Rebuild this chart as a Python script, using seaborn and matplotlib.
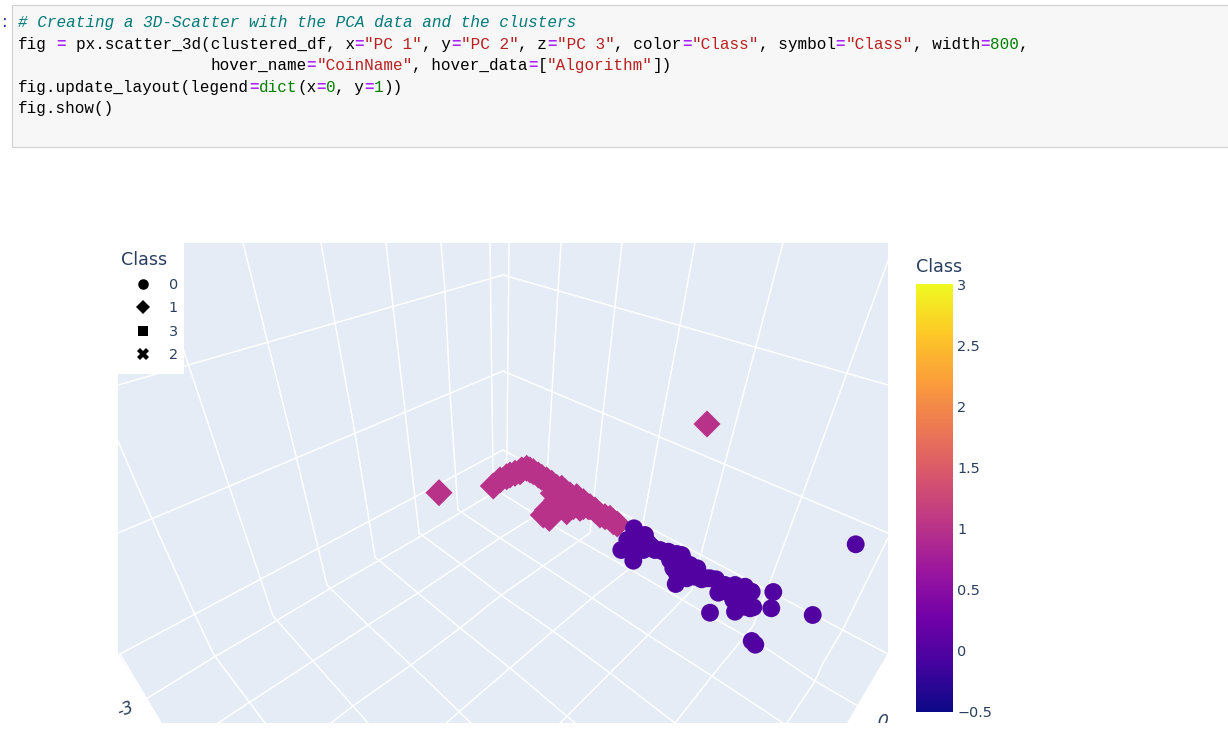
import re
import numpy as np
import pandas as pd
import matplotlib.pyplot as plt
from matplotlib.cm import ScalarMappable
from matplotlib.colors import LinearSegmentedColormap, Normalize
from matplotlib.lines import Line2D
from matplotlib.patches import Polygon, Rectangle
import seaborn as sns

## Values (projected scene position, in picture pixels)
class0_x = [634, 645, 627.3, 621.3, 633.3, 636.7, 643.3, 655, 663.3, 676.7, 683.3, 673.3, 675.7,
            685, 697.3, 690, 701.7, 716, 710, 718.3, 725, 735, 745, 751.7, 735, 736.7, 750,
            753.3, 745, 726.7, 741.7, 743.3, 855.7, 812.7, 773.3, 771.3, 710, 751.7, 755.3,
            640, 630, 648.3, 670, 678.3, 676.7, 686.7, 695, 706.7, 721.7, 730, 736.7, 746.7,
            733.3, 741.7, 651.7, 660, 668.3, 681.7, 690]
class0_y = [528.3, 535, 540, 550, 560.7, 546.7, 550, 550, 551.7, 554, 560, 568.3, 584,
            571.7, 568.3, 575, 579.3, 579.3, 578.3, 592.7, 585, 585, 586.7, 591.7, 611.7, 603.3, 608.3,
            607.3, 600, 591.7, 593.3, 606.7, 544.3, 615, 592, 608.3, 612.7, 641, 644.7,
            541.7, 548.3, 543.3, 560, 563.3, 573.3, 578.3, 576.7, 578.3, 585, 591.7, 593.3, 595,
            600, 603.3, 546.7, 550, 551.7, 555, 565]
class1_x = [493.3, 500, 506.7, 515, 521.7, 526.7, 533.3, 541.7, 546.7, 556.7, 561.7, 570, 576.7,
            588.3, 600, 610, 617.3, 547.3, 549.3, 566.7, 580, 560, 566.7, 590, 439, 707,
            510, 520, 530, 538.3, 551.7, 565, 583.3, 595, 605, 613.3, 556.7, 573.3, 583.3,
            556.7, 576.7, 553.3, 566.7, 543.3]
class1_y = [486, 480, 476.7, 473.3, 470, 468.3, 471.7, 477.3, 480, 487.3, 488.3, 495, 496.7,
            506.7, 515, 518.3, 524, 510, 518.3, 511.7, 508.3, 503.3, 500, 506.7, 492.7, 424,
            475, 471.7, 470, 475, 483.3, 491.7, 501.7, 510, 516.7, 521.7, 500, 506.7, 506.7,
            510, 503.3, 493.3, 506.7, 515]

legend_classes = ["0", "1", "3", "2"]
colorbar_ticks = [-0.5, 0, 0.5, 1, 1.5, 2, 2.5, 3]
colorbar_labels = ["\u22120.5", "0", "0.5", "1", "1.5", "2", "2.5", "3"]
plasma = ["#0d0887", "#46039f", "#7201a8", "#9c179e", "#bd3786",
          "#d8576b", "#ed7953", "#fb9f3a", "#fdca26", "#f0f921"]

code_lines = [
    '# Creating a 3D-Scatter with the PCA data and the clusters',
    'fig = px.scatter_3d(clustered_df, x="PC 1", y="PC 2", z="PC 3", color="Class", symbol="Class", width=800,',
    '                    hover_name="CoinName", hover_data=["Algorithm"])',
    'fig.update_layout(legend=dict(x=0, y=1))',
    'fig.show()',
]

# white grid of the 3d box, as seen on the screenshot
grid_lines = [
    # left wall, horizontal
    [(503, 275), (118, 385)], [(503, 371), (118, 533)], [(503, 450), (120, 654)],
    # right wall, horizontal + the floor edge
    [(503, 275), (888, 385)], [(503, 371), (888, 533)], [(503, 450), (888, 654)],
    # left wall, vertical then floor
    [(118, 441), (136, 483), (195, 615), (214, 655), (265, 723)],
    [(170, 310), (228, 483), (261, 580), (273, 616), (313, 661), (368, 723)],
    [(243, 243), (296, 456), (327, 585), (368, 625), (411, 665), (471, 723)],
    [(321, 243), (335, 323), (355, 433), (375, 557), (418, 593), (460, 628), (510, 668), (575, 723)],
    [(386, 243), (393, 306), (405, 411), (419, 533), (461, 564), (505, 598), (553, 631), (610, 673), (675, 723)],
    [(441, 243), (445, 291), (450, 393), (458, 510), (500, 538), (543, 566), (592, 598), (648, 635), (712, 676), (783, 723)],
    [(490, 243), (493, 476), (493, 488), (557, 528), (633, 571), (710, 616), (763, 646), (815, 681), (858, 706)],
    # right wall, vertical then floor
    [(509, 243), (507, 450), (505, 486), (423, 535), (331, 588), (276, 621), (216, 656), (146, 699), (106, 723)],
    [(561, 243), (558, 291), (552, 391), (545, 510), (500, 538), (418, 593), (368, 625), (313, 661), (250, 702), (218, 723)],
    [(622, 243), (615, 306), (603, 413), (590, 533), (543, 566), (500, 596), (460, 628), (411, 665), (353, 706), (331, 723)],
    [(695, 243), (680, 325), (659, 436), (643, 523), (633, 566), (592, 598), (553, 631), (510, 668), (460, 711), (446, 723)],
    [(783, 243), (756, 346), (725, 463), (700, 558), (692, 590), (648, 635), (610, 673), (567, 716), (560, 723)],
    [(892, 250), (847, 373), (802, 496), (767, 590), (753, 626), (712, 676), (675, 723)],
    [(888, 538), (842, 631), (823, 663), (815, 681), (787, 723)],
    # front left edge
    [(120, 654), (161, 723)],
]

clustered_df = pd.concat([
    pd.DataFrame({"x": class0_x, "y": class0_y, "Class": 0}),
    pd.DataFrame({"x": class1_x, "y": class1_y, "Class": 1}),
])

W, H = 1228, 738
TEXT = "#2a3f5f"

sns.set_theme(style="white")
plt.rcParams["font.family"] = ["DejaVu Sans"]
fig = plt.figure(figsize=(W / 100, H / 100), dpi=100, facecolor="white")

## notebook cell on top
page = fig.add_axes([0, 0, 1, 1])
page.set_xlim(0, W)
page.set_ylim(H, 0)
page.axis("off")
page.add_patch(Rectangle((11.5, 4.5), W, 142, facecolor="#f7f7f7", edgecolor="#cfcfcf", lw=0.8))
page.text(-1, 27, ":", color="#303f9f", family="Liberation Mono", fontsize=11.5)

CHAR_W = 9.62
baselines = [27, 49, 70, 92, 113]
token_re = re.compile(r'"[^"]*"|=|\bdict\b|\b\d+\b')


def put_code(col, text, color, base, **kw):
    page.text(18 + col * CHAR_W, base, text, color=color, family="Liberation Mono", fontsize=11.55, **kw)


for line, base in zip(code_lines, baselines):
    if line.startswith("#"):
        put_code(0, line, "#007979", base, style="italic")
        continue
    pos = 0
    for m in token_re.finditer(line):
        if line[pos:m.start()].strip():
            # leading blanks of a segment only shift it
            seg = line[pos:m.start()]
            put_code(pos + len(seg) - len(seg.lstrip()), seg.strip(), "black", base)
        tok = m.group()
        if tok == "=":
            put_code(m.start(), tok, "#aa22ff", base, weight="bold")
        elif tok.startswith('"'):
            put_code(m.start(), tok, "#ba2121", base)
        else:
            put_code(m.start(), tok, "#008000", base)
        pos = m.end()
    if line[pos:].strip():
        seg = line[pos:]
        put_code(pos + len(seg) - len(seg.lstrip()), seg.strip(), "black", base)

## 3d scene, flattened
ax = fig.add_axes([118 / W, (H - 723) / H, 770 / W, 480 / H])
ax.patch.set_alpha(0)
ax.set_xlim(118, 888)
ax.set_ylim(723, 243)
ax.axis("off")
ax.add_patch(Polygon([(118, 243), (888, 243), (888, 653), (847, 723), (161, 723), (118, 653)],
                     facecolor="#e5ecf6", edgecolor="none"))
for pts in grid_lines:
    gx, gy = zip(*pts)
    ax.plot(gx, gy, color="white", lw=1.1, solid_joinstyle="round", zorder=1)

cmap = LinearSegmentedColormap.from_list("plasma_plotly", plasma)
norm = Normalize(-0.5, 3)

sns.scatterplot(data=clustered_df[clustered_df["Class"] == 1], x="x", y="y", hue="Class", palette=cmap,
                hue_norm=norm, marker="D", s=190, linewidth=0, legend=False, ax=ax, zorder=3)
sns.scatterplot(data=clustered_df[clustered_df["Class"] == 0], x="x", y="y", hue="Class", palette=cmap,
                hue_norm=norm, marker="o", s=165, linewidth=0, legend=False, ax=ax, zorder=4)
ax.set_xlabel("")
ax.set_ylabel("")

# clipped axis labels at the bottom corners
ax.text(125, 709, "-3", color=TEXT, fontsize=12, style="italic", rotation=20, ha="center", va="center", clip_on=True, zorder=2)
ax.text(882, 722, "0", color=TEXT, fontsize=12, style="italic", rotation=-8, ha="center", va="center", clip_on=True, zorder=2)

## legend
ax.add_patch(Rectangle((118, 243), 66, 131, facecolor="white", edgecolor="none", zorder=5))
markers = {"0": ("o", 7.6), "1": ("D", 7.2), "3": ("s", 7.6), "2": ("X", 8.6)}
handles = [Line2D([], [], ls="", marker=markers[c][0], ms=markers[c][1], color="black", mew=0)
           for c in legend_classes]
leg = ax.legend(handles, legend_classes, title="Class", loc="upper left",
                bbox_to_anchor=(3 / 770, 1 - 8 / 480), frameon=False,
                fontsize=10.4, title_fontsize=12.6, alignment="left", borderpad=0, borderaxespad=0,
                handletextpad=0.28, handlelength=3.03, labelspacing=0.64)
leg.set_zorder(6)
for t in leg.get_texts():
    t.set_color(TEXT)
leg.get_title().set_color(TEXT)

## colorbar
cax = fig.add_axes([915.5 / W, (H - 711.5) / H, 37.5 / W, 427.5 / H])
cb = fig.colorbar(ScalarMappable(norm=norm, cmap=cmap), cax=cax)
cb.set_ticks(colorbar_ticks)
cb.set_ticklabels(colorbar_labels)
cb.outline.set_visible(False)
cax.tick_params(axis="y", length=0, pad=3, labelsize=10.4, labelcolor=TEXT)
page.text(916, 267, "Class", color=TEXT, fontsize=12.6, va="center")

fig.savefig("out.png", dpi=100)
